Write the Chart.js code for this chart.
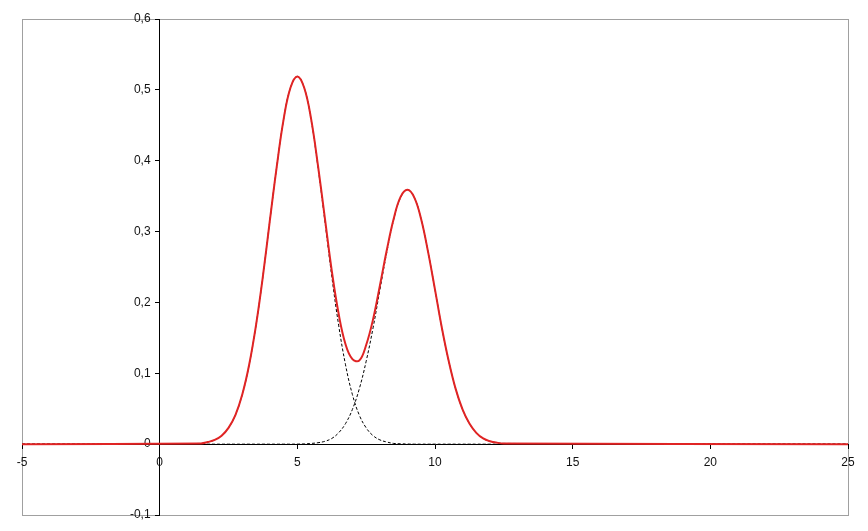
<!DOCTYPE html>
<html>
<head>
<meta charset="utf-8">
<script src="https://cdn.jsdelivr.net/npm/chart.js@4/dist/chart.umd.min.js"></script>
<style>
  html, body { margin: 0; padding: 0; background: #fff; }
  #wrap { width: 868px; height: 531px; }
</style>
</head>
<body>
<div id="wrap"><canvas id="graf"></canvas></div>
<script>
// x values of the curves
const xs = [-5,
  1.5, 1.75, 2, 2.25, 2.5, 2.75, 3, 3.25, 3.5, 3.75,
  4, 4.25, 4.5, 4.75, 5, 5.25, 5.5, 5.75, 6, 6.25,
  6.5, 6.75, 7, 7.25, 7.5, 7.75, 8, 8.25, 8.5, 8.75,
  9, 9.25, 9.5, 9.75, 10, 10.25, 10.5, 10.75, 11, 11.25,
  11.5, 11.75, 12, 12.25, 12.5,
  25];

// red curve (sum)
const toplam = [0,
  0.001, 0.003, 0.006, 0.012, 0.023, 0.041, 0.070, 0.112, 0.168, 0.237,
  0.315, 0.391, 0.458, 0.503, 0.519, 0.503, 0.459, 0.393, 0.319, 0.245,
  0.184, 0.141, 0.120, 0.118, 0.140, 0.176, 0.224, 0.274, 0.318, 0.349,
  0.359, 0.348, 0.317, 0.271, 0.218, 0.164, 0.117, 0.078, 0.049, 0.029,
  0.016, 0.008, 0.004, 0.002, 0.001,
  0];

// first dashed peak (around 5)
const tepe1 = [0,
  0.001, 0.003, 0.006, 0.012, 0.023, 0.041, 0.070, 0.112, 0.168, 0.237,
  0.315, 0.391, 0.458, 0.503, 0.519, 0.503, 0.458, 0.391, 0.315, 0.237,
  0.168, 0.112, 0.070, 0.041, 0.023, 0.012, 0.006, 0.003, 0.001, 0.0005,
  0.0002, 0, 0, 0, 0, 0, 0, 0, 0, 0,
  0, 0, 0, 0, 0,
  0];

// second dashed peak (around 9)
const tepe2 = [0,
  0, 0, 0, 0, 0, 0, 0, 0, 0, 0,
  0, 0, 0, 0, 0.0001, 0.0003, 0.001, 0.002, 0.004, 0.008,
  0.016, 0.029, 0.049, 0.078, 0.117, 0.164, 0.218, 0.271, 0.317, 0.348,
  0.359, 0.348, 0.317, 0.271, 0.218, 0.164, 0.117, 0.078, 0.049, 0.029,
  0.016, 0.008, 0.004, 0.002, 0.001,
  0];

const xTickLabels = ['-5', '0', '5', '10', '15', '20', '25'];
const yTickLabels = ['-0,1', '0', '0,1', '0,2', '0,3', '0,4', '0,5', '0,6'];

function noktalar(ys) {
  return xs.map((x, i) => ({ x: x, y: ys[i] }));
}

// grey frame around the plot area
const cerceve = {
  id: 'cerceve',
  beforeDraw(chart) {
    const a = chart.chartArea;
    const ctx = chart.ctx;
    ctx.save();
    ctx.strokeStyle = '#a0a0a0';
    ctx.lineWidth = 1;
    ctx.strokeRect(Math.round(a.left) + 0.5, Math.round(a.top) + 0.5,
                   Math.round(a.right - a.left), Math.round(a.bottom - a.top));
    ctx.restore();
  }
};

const fontAyar = { family: '"Liberation Sans", Arial, sans-serif', size: 12 };

const cizgi = {
  pointRadius: 0,
  tension: 0.4
};

new Chart(document.getElementById('graf'), {
  type: 'line',
  data: {
    datasets: [
      Object.assign({
        data: noktalar(toplam),
        borderColor: 'rgb(224, 36, 36)',
        borderWidth: 2,
        order: 0
      }, cizgi),
      Object.assign({
        data: noktalar(tepe1),
        borderColor: '#000',
        borderWidth: 1,
        borderDash: [3, 2],
        order: 1
      }, cizgi),
      Object.assign({
        data: noktalar(tepe2),
        borderColor: '#000',
        borderWidth: 1,
        borderDash: [3, 2],
        order: 1
      }, cizgi)
    ]
  },
  options: {
    responsive: true,
    maintainAspectRatio: false,
    animation: false,
    layout: { padding: { left: 22, right: 20, top: 19, bottom: 16 } },
    plugins: { legend: { display: false }, tooltip: { enabled: false } },
    scales: {
      x: {
        type: 'linear',
        position: { y: 0 },
        min: -5, max: 25,
        grid: { drawOnChartArea: false, tickLength: 4, color: '#000' },
        border: { color: '#000', width: 1 },
        ticks: {
          stepSize: 5,
          padding: 7,
          color: '#111',
          font: fontAyar,
          maxRotation: 0,
          callback: (v, i) => xTickLabels[i]
        }
      },
      y: {
        type: 'linear',
        position: { x: 0 },
        z: 1,
        min: -0.1, max: 0.6,
        grid: { drawOnChartArea: false, tickLength: 4, color: '#000' },
        border: { color: '#000', width: 1 },
        ticks: {
          stepSize: 0.1,
          padding: 2,
          color: '#111',
          font: fontAyar,
          // trailing spaces keep the labels clear of the tick marks
          callback: (v, i) => yTickLabels[i] + '\u2009  '
        }
      }
    }
  },
  plugins: [cerceve]
});
</script>
</body>
</html>
